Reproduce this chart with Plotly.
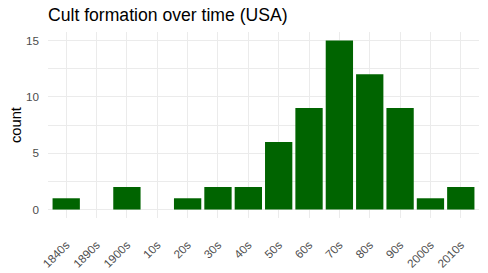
import plotly.graph_objects as go

decades = ["1840s", "1890s", "1900s", "10s", "20s", "30s", "40s", "50s",
           "60s", "70s", "80s", "90s", "2000s", "2010s"]
counts = [1, 0, 2, 0, 1, 2, 2, 6, 9, 15, 12, 9, 1, 2]

FONT = "Liberation Sans, Arial, sans-serif"

fig = go.Figure(go.Bar(x=decades, y=counts, width=0.9, marker=dict(color="#006400", line=dict(width=0))))

fig.update_layout(
    width=488, height=273,
    margin=dict(l=48, r=9, t=32, b=55),
    paper_bgcolor="white", plot_bgcolor="white",
    font=dict(family=FONT, color="#4d4d4d"),
    title=dict(text="Cult formation over time (USA)", x=0, xref="paper", xanchor="left",
               y=1, yref="container", yanchor="top", pad=dict(t=9, l=0),
               font=dict(size=17.6, color="black", family=FONT)),
    showlegend=False,
    bargap=0.1,
)
fig.update_xaxes(
    type="category", categoryorder="array", categoryarray=decades,
    range=[-0.6, len(decades) - 0.4],
    showgrid=True, gridcolor="#ebebeb", gridwidth=1,
    tickangle=-45, tickfont=dict(size=11.7, color="#4d4d4d"),
    ticklabelstandoff=17, automargin=False,
    ticks="", showline=False, zeroline=False,
)
fig.update_yaxes(
    range=[-0.75, 15.75], tickvals=[0, 5, 10, 15],
    showgrid=True, gridcolor="#ebebeb", gridwidth=1,
    minor=dict(tickvals=[2.5, 7.5, 12.5], showgrid=True, gridcolor="#ebebeb", gridwidth=0.5),
    tickfont=dict(size=11.7, color="#4d4d4d"),
    ticklabelstandoff=8, automargin=False,
    title=dict(text="count", font=dict(size=14.7, color="black", family=FONT), standoff=0),
    ticks="", showline=False, zeroline=False,
)

fig.write_html("out.html")
